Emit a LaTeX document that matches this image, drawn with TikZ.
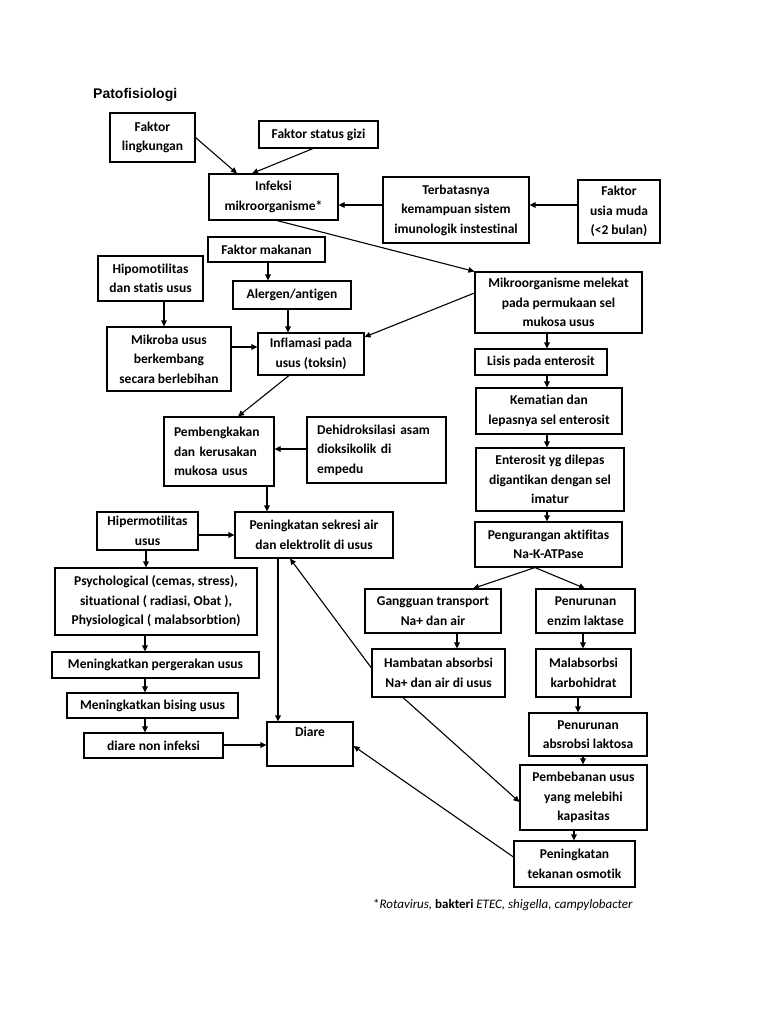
\documentclass[tikz,border=0pt]{standalone}
\usepackage{fontspec}
\setmainfont{Carlito}[Ligatures=NoCommon]
\newfontfamily\titlefont{Liberation Sans}
\usetikzlibrary{arrows.meta}
\tikzset{
  box/.style={draw, line width=1.1pt, inner sep=0pt, align=center,
    font=\fontsize{13.5}{19.5}\selectfont\bfseries},
  arr/.style={line width=1.1pt, -{Triangle[length=6pt,width=5.5pt]}},
}
\newcommand{\bx}[6]{\node[box, minimum width=#4, minimum height=#5] (#1) at (#2,#3) {#6};}
\begin{document}
\begin{tikzpicture}[x=1pt,y=-1pt]
\useasboundingbox (0,0) rectangle (768,1024);
\fill[white] (0,0) rectangle (768,1024);
\node[anchor=west, font=\titlefont\bfseries\fontsize{14}{16}\selectfont, inner sep=0pt] (title) at (93,95) {Patofisiologi};

\bx{lingk}{152.5}{137.5}{85}{49}{Faktor\\lingkungan}
\bx{gizi}{318.5}{134.5}{119}{27}{Faktor status gizi}
\bx{infeksi}{273.5}{197}{129}{46}{Infeksi\\mikroorganisme*}
\bx{terbatas}{456}{210}{146}{66}{Terbatasnya\\kemampuan sistem\\imunologik instestinal}
\bx{usia}{619}{211.5}{82}{63}{Faktor\\usia muda\\(<2 bulan)}
\bx{makanan}{266.5}{249.5}{117}{25}{Faktor makanan}
\bx{alergen}{292}{295}{118}{28}{Alergen/antigen}
\bx{hipo}{150.5}{278.5}{105}{45}{Hipomotilitas\\dan statis usus}
\bx{mikroba}{169}{359}{124}{64}{Mikroba usus\\berkembang\\secara berlebihan}
\bx{inflamasi}{311}{354}{106}{42}{Inflamasi pada\\usus (toksin)}
\bx{melekat}{558.5}{302.5}{167}{61}{Mikroorganisme melekat\\pada permukaan sel\\mukosa usus}
\bx{lisis}{541}{362}{132}{26}{Lisis pada enterosit}
\bx{kematian}{549}{411}{146}{46}{Kematian dan\\lepasnya sel enterosit}
\bx{entero}{550}{479.5}{148}{63}{Enterosit yg dilepas\\digantikan dengan sel\\imatur}
\bx{pengurangan}{548.5}{544.5}{147}{45}{Pengurangan aktifitas\\Na-K-ATPase}
\node[box, minimum width=110, minimum height=69, text width=90, align=left] (pembengkakan) at (219,451.5) {Pembengkakan\\dan kerusakan\\mukosa usus};
\node[box, minimum width=139, minimum height=66, text width=119, align=left] (dehidro) at (376.5,450) {Dehidroksilasi asam\\dioksikolik di\\empedu};
\bx{sekresi}{314}{535}{158}{46}{Peningkatan sekresi air\\dan elektrolit di usus}
\bx{hiper}{147.5}{531}{101}{38}{Hipermotilitas\\usus}
\bx{psycho}{156}{601.5}{202}{67}{Psychological (cemas, stress),\\situational ( radiasi, Obat ),\\Physiological ( malabsorbtion)}
\bx{pergerakan}{155.5}{665}{207}{26}{Meningkatkan pergerakan usus}
\bx{bising}{152.5}{705.5}{171}{25}{Meningkatkan bising usus}
\bx{noninf}{153.5}{745.5}{139}{25}{diare non infeksi}
\bx{diare}{310}{744}{86}{44}{Diare\\\strut}
\bx{gangguan}{433}{611}{136}{44}{Gangguan transport\\Na+ dan air}
\bx{enzim}{585.5}{611}{99}{44}{Penurunan\\enzim laktase}
\bx{hambatan}{438.5}{673}{133}{48}{Hambatan absorbsi\\Na+ dan air di usus}
\bx{malabs}{583.5}{673}{95}{48}{Malabsorbsi\\karbohidrat}
\bx{penabs}{588}{734.5}{118}{43}{Penurunan\\absrobsi laktosa}
\bx{pembebanan}{583.5}{797.5}{127}{65}{Pembebanan usus\\yang melebihi\\kapasitas}
\bx{tekanan}{574.5}{864}{121}{46}{Peningkatan\\tekanan osmotik}

\node[anchor=west, inner sep=0pt, font=\fontsize{13}{16}\selectfont] (foot) at (373,905) {*\textit{Rotavirus,} \textbf{bakteri} \textit{ETEC, shigella, campylobacter}};

% connectors
\draw[arr] (lingk.east) -- ([xshift=-36.5pt]infeksi.north);
\draw[arr] ([xshift=-5.5pt]gizi.south) -- ([xshift=-21.5pt]infeksi.north);
\draw[arr] ([yshift=6.5pt]usia.west) -- ([yshift=5pt]terbatas.east);
\draw[arr] ([yshift=5pt]terbatas.west) -- ([yshift=-8pt]infeksi.east);
\draw[arr] ([xshift=3.5pt]infeksi.south) -- (melekat.north west);
\draw[arr] ([xshift=1.5pt]makanan.south) -- ([xshift=-24pt]alergen.north);
\draw[arr] ([xshift=-4pt]alergen.south) -- ([xshift=-23pt]inflamasi.north);
\draw[arr] ([xshift=13.5pt]hipo.south) -- ([xshift=-5pt]mikroba.north);
\draw[arr] ([yshift=12pt]mikroba.east) -- ([yshift=7pt]inflamasi.west);
\draw[arr] ([yshift=9.5pt]melekat.west) -- ([yshift=17pt]inflamasi.east);
\draw[arr] ([xshift=-11.5pt]melekat.south) -- ([xshift=6pt]lisis.north);
\draw[arr] ([xshift=6pt]lisis.south) -- ([xshift=-2pt]kematian.north);
\draw[arr] ([xshift=-2pt]kematian.south) -- ([xshift=-3pt]entero.north);
\draw[arr] ([xshift=-3pt]entero.south) -- ([xshift=-1.5pt]pengurangan.north);
\draw[arr] ([xshift=-13.5pt]pengurangan.south) -- ([xshift=40pt]gangguan.north);
\draw[arr] ([xshift=-13.5pt]pengurangan.south) -- ([xshift=-0.5pt]enzim.north);
\draw[arr] ([xshift=24pt]gangguan.south) -- ([xshift=18.5pt]hambatan.north);
\draw[arr] ([xshift=-2.5pt]enzim.south) -- ([xshift=-0.5pt]malabs.north);
\draw[arr] ([xshift=-5.5pt]malabs.south) -- ([xshift=-10pt]penabs.north);
\draw[arr] ([xshift=-5pt]penabs.south) -- ([xshift=-0.5pt]pembebanan.north);
\draw[arr] ([xshift=-9.5pt]pembebanan.south) -- ([xshift=-0.5pt]tekanan.north);
\draw[arr] ([xshift=-35.5pt]hambatan.south) -- ([yshift=-4.5pt]pembebanan.west);
\draw[arr] ([yshift=7pt]tekanan.west) -- ([yshift=-2pt]diare.east);
\draw[arr] ([yshift=5pt]hambatan.west) -- ([xshift=-24pt]sekresi.south);
\draw[arr] ([xshift=-22pt]inflamasi.south) -- ([xshift=19pt]pembengkakan.north);
\draw[arr] ([yshift=1pt]dehidro.west) -- ([yshift=2.5pt]pembengkakan.east);
\draw[arr] ([xshift=48pt]pembengkakan.south) -- ([xshift=-47pt]sekresi.north);
\draw[arr] ([yshift=-4pt]hiper.east) -- (sekresi.west);
\draw[arr] ([xshift=-1.5pt]hiper.south) -- ([xshift=-10pt]psycho.north);
\draw[arr] ([xshift=-11pt]psycho.south) -- ([xshift=-10.5pt]pergerakan.north);
\draw[arr] ([xshift=-10.5pt]pergerakan.south) -- ([xshift=-7.5pt]bising.north);
\draw[arr] ([xshift=-7.5pt]bising.south) -- ([xshift=-8.5pt]noninf.north);
\draw[arr] ([yshift=0.5pt]noninf.east) -- ([yshift=-1pt]diare.west);
\draw[arr] ([xshift=-36pt]sekresi.south) -- ([xshift=-32pt]diare.north);
\end{tikzpicture}
\end{document}
